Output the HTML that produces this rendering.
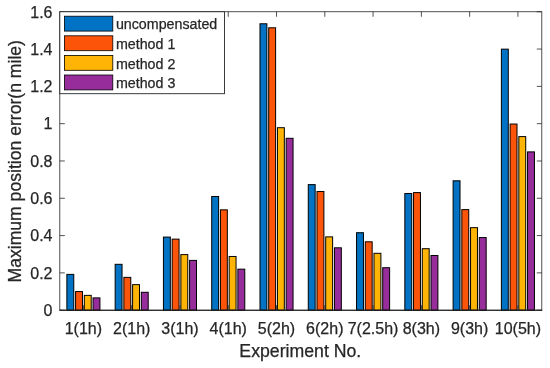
<!DOCTYPE html><html><head><meta charset="utf-8"><title>chart</title><style>html,body{margin:0;padding:0;background:#fff}svg{display:block}text{font-family:"Liberation Sans",Arial,Helvetica,sans-serif;fill:#262626;stroke:#262626;stroke-width:0.25px}</style></head><body>
<svg width="550" height="368" viewBox="0 0 550 368">
<rect width="550" height="368" fill="#fff"/>
<rect x="66.87" y="274.39" width="6.90" height="35.81" fill="#0272C4" stroke="#000" stroke-width="1"/>
<rect x="75.59" y="291.55" width="6.90" height="18.65" fill="#FC5408" stroke="#000" stroke-width="1"/>
<rect x="84.31" y="295.37" width="6.90" height="14.83" fill="#FFB406" stroke="#000" stroke-width="1"/>
<rect x="93.03" y="297.89" width="6.90" height="12.31" fill="#972D9B" stroke="#000" stroke-width="1"/>
<rect x="115.15" y="264.31" width="6.90" height="45.89" fill="#0272C4" stroke="#000" stroke-width="1"/>
<rect x="123.87" y="277.37" width="6.90" height="32.83" fill="#FC5408" stroke="#000" stroke-width="1"/>
<rect x="132.59" y="284.65" width="6.90" height="25.55" fill="#FFB406" stroke="#000" stroke-width="1"/>
<rect x="141.31" y="292.29" width="6.90" height="17.91" fill="#972D9B" stroke="#000" stroke-width="1"/>
<rect x="163.43" y="237.08" width="6.90" height="73.12" fill="#0272C4" stroke="#000" stroke-width="1"/>
<rect x="172.15" y="239.13" width="6.90" height="71.07" fill="#FC5408" stroke="#000" stroke-width="1"/>
<rect x="180.87" y="254.61" width="6.90" height="55.59" fill="#FFB406" stroke="#000" stroke-width="1"/>
<rect x="189.59" y="260.40" width="6.90" height="49.80" fill="#972D9B" stroke="#000" stroke-width="1"/>
<rect x="211.71" y="196.49" width="6.90" height="113.71" fill="#0272C4" stroke="#000" stroke-width="1"/>
<rect x="220.43" y="209.85" width="6.90" height="100.35" fill="#FC5408" stroke="#000" stroke-width="1"/>
<rect x="229.15" y="256.48" width="6.90" height="53.72" fill="#FFB406" stroke="#000" stroke-width="1"/>
<rect x="237.87" y="269.16" width="6.90" height="41.04" fill="#972D9B" stroke="#000" stroke-width="1"/>
<rect x="259.99" y="23.78" width="6.90" height="286.42" fill="#0272C4" stroke="#000" stroke-width="1"/>
<rect x="268.71" y="27.79" width="6.90" height="282.41" fill="#FC5408" stroke="#000" stroke-width="1"/>
<rect x="277.43" y="127.70" width="6.90" height="182.50" fill="#FFB406" stroke="#000" stroke-width="1"/>
<rect x="286.15" y="138.29" width="6.90" height="171.91" fill="#972D9B" stroke="#000" stroke-width="1"/>
<rect x="308.27" y="184.61" width="6.90" height="125.59" fill="#0272C4" stroke="#000" stroke-width="1"/>
<rect x="316.99" y="191.49" width="6.90" height="118.71" fill="#FC5408" stroke="#000" stroke-width="1"/>
<rect x="325.71" y="236.89" width="6.90" height="73.31" fill="#FFB406" stroke="#000" stroke-width="1"/>
<rect x="334.43" y="247.81" width="6.90" height="62.39" fill="#972D9B" stroke="#000" stroke-width="1"/>
<rect x="356.55" y="232.70" width="6.90" height="77.50" fill="#0272C4" stroke="#000" stroke-width="1"/>
<rect x="365.27" y="241.80" width="6.90" height="68.40" fill="#FC5408" stroke="#000" stroke-width="1"/>
<rect x="373.99" y="253.31" width="6.90" height="56.89" fill="#FFB406" stroke="#000" stroke-width="1"/>
<rect x="382.71" y="267.71" width="6.90" height="42.49" fill="#972D9B" stroke="#000" stroke-width="1"/>
<rect x="404.83" y="193.51" width="6.90" height="116.69" fill="#0272C4" stroke="#000" stroke-width="1"/>
<rect x="413.55" y="192.59" width="6.90" height="117.61" fill="#FC5408" stroke="#000" stroke-width="1"/>
<rect x="422.27" y="248.70" width="6.90" height="61.50" fill="#FFB406" stroke="#000" stroke-width="1"/>
<rect x="430.99" y="255.49" width="6.90" height="54.71" fill="#972D9B" stroke="#000" stroke-width="1"/>
<rect x="453.11" y="180.80" width="6.90" height="129.40" fill="#0272C4" stroke="#000" stroke-width="1"/>
<rect x="461.83" y="209.60" width="6.90" height="100.60" fill="#FC5408" stroke="#000" stroke-width="1"/>
<rect x="470.55" y="227.66" width="6.90" height="82.54" fill="#FFB406" stroke="#000" stroke-width="1"/>
<rect x="479.27" y="237.55" width="6.90" height="72.65" fill="#972D9B" stroke="#000" stroke-width="1"/>
<rect x="501.39" y="49.15" width="6.90" height="261.05" fill="#0272C4" stroke="#000" stroke-width="1"/>
<rect x="510.11" y="124.04" width="6.90" height="186.16" fill="#FC5408" stroke="#000" stroke-width="1"/>
<rect x="518.83" y="136.60" width="6.90" height="173.60" fill="#FFB406" stroke="#000" stroke-width="1"/>
<rect x="527.55" y="151.89" width="6.90" height="158.31" fill="#972D9B" stroke="#000" stroke-width="1"/>
<rect x="59.8" y="11.75" width="481.99999999999994" height="298.45" fill="none" stroke="#262626" stroke-width="0.8"/>
<path d="M59.4 310.3H542.1999999999999" stroke="#1a1a1a" stroke-width="1.1" fill="none"/>
<path d="M83.40 310.2V305.2 M83.40 11.75V16.75" stroke="#262626" stroke-width="0.8" fill="none"/>
<text x="83.40" y="334.2" font-size="16" text-anchor="middle">1(1h)</text>
<path d="M131.68 310.2V305.2 M131.68 11.75V16.75" stroke="#262626" stroke-width="0.8" fill="none"/>
<text x="131.68" y="334.2" font-size="16" text-anchor="middle">2(1h)</text>
<path d="M179.96 310.2V305.2 M179.96 11.75V16.75" stroke="#262626" stroke-width="0.8" fill="none"/>
<text x="179.96" y="334.2" font-size="16" text-anchor="middle">3(1h)</text>
<path d="M228.24 310.2V305.2 M228.24 11.75V16.75" stroke="#262626" stroke-width="0.8" fill="none"/>
<text x="228.24" y="334.2" font-size="16" text-anchor="middle">4(1h)</text>
<path d="M276.52 310.2V305.2 M276.52 11.75V16.75" stroke="#262626" stroke-width="0.8" fill="none"/>
<text x="276.52" y="334.2" font-size="16" text-anchor="middle">5(2h)</text>
<path d="M324.80 310.2V305.2 M324.80 11.75V16.75" stroke="#262626" stroke-width="0.8" fill="none"/>
<text x="324.80" y="334.2" font-size="16" text-anchor="middle">6(2h)</text>
<path d="M373.08 310.2V305.2 M373.08 11.75V16.75" stroke="#262626" stroke-width="0.8" fill="none"/>
<text x="373.08" y="334.2" font-size="16" text-anchor="middle">7(2.5h)</text>
<path d="M421.36 310.2V305.2 M421.36 11.75V16.75" stroke="#262626" stroke-width="0.8" fill="none"/>
<text x="421.36" y="334.2" font-size="16" text-anchor="middle">8(3h)</text>
<path d="M469.64 310.2V305.2 M469.64 11.75V16.75" stroke="#262626" stroke-width="0.8" fill="none"/>
<text x="469.64" y="334.2" font-size="16" text-anchor="middle">9(3h)</text>
<path d="M517.92 310.2V305.2 M517.92 11.75V16.75" stroke="#262626" stroke-width="0.8" fill="none"/>
<text x="517.92" y="334.2" font-size="16" text-anchor="middle">10(5h)</text>
<path d="M59.8 310.20H64.8 M541.8 310.20H536.8" stroke="#262626" stroke-width="0.8" fill="none"/>
<text x="52.5" y="315.95" font-size="16" text-anchor="end">0</text>
<path d="M59.8 272.89H64.8 M541.8 272.89H536.8" stroke="#262626" stroke-width="0.8" fill="none"/>
<text x="52.5" y="278.64" font-size="16" text-anchor="end">0.2</text>
<path d="M59.8 235.59H64.8 M541.8 235.59H536.8" stroke="#262626" stroke-width="0.8" fill="none"/>
<text x="52.5" y="241.34" font-size="16" text-anchor="end">0.4</text>
<path d="M59.8 198.28H64.8 M541.8 198.28H536.8" stroke="#262626" stroke-width="0.8" fill="none"/>
<text x="52.5" y="204.03" font-size="16" text-anchor="end">0.6</text>
<path d="M59.8 160.97H64.8 M541.8 160.97H536.8" stroke="#262626" stroke-width="0.8" fill="none"/>
<text x="52.5" y="166.72" font-size="16" text-anchor="end">0.8</text>
<path d="M59.8 123.67H64.8 M541.8 123.67H536.8" stroke="#262626" stroke-width="0.8" fill="none"/>
<text x="52.5" y="129.42" font-size="16" text-anchor="end">1</text>
<path d="M59.8 86.36H64.8 M541.8 86.36H536.8" stroke="#262626" stroke-width="0.8" fill="none"/>
<text x="52.5" y="92.11" font-size="16" text-anchor="end">1.2</text>
<path d="M59.8 49.06H64.8 M541.8 49.06H536.8" stroke="#262626" stroke-width="0.8" fill="none"/>
<text x="52.5" y="54.81" font-size="16" text-anchor="end">1.4</text>
<path d="M59.8 11.75H64.8 M541.8 11.75H536.8" stroke="#262626" stroke-width="0.8" fill="none"/>
<text x="52.5" y="17.50" font-size="16" text-anchor="end">1.6</text>
<text x="300.30" y="356.5" font-size="17.7" text-anchor="middle">Experiment No.</text>
<text transform="translate(20.5 161.28) rotate(-90)" font-size="17.6" text-anchor="middle">Maximum position error(n mile)</text>
<rect x="59.8" y="11.75" width="164.7" height="81.95" fill="#fff" stroke="#262626" stroke-width="0.9"/>
<rect x="64.4" y="16.20" width="48.4" height="14.9" fill="#0272C4" stroke="#000" stroke-width="0.8"/>
<text x="115.9" y="29.40" font-size="14.25" fill="#000" stroke="#000">uncompensated</text>
<rect x="64.4" y="35.80" width="48.4" height="14.9" fill="#FC5408" stroke="#000" stroke-width="0.8"/>
<text x="115.9" y="49.00" font-size="14.25" fill="#000" stroke="#000">method 1</text>
<rect x="64.4" y="55.40" width="48.4" height="14.9" fill="#FFB406" stroke="#000" stroke-width="0.8"/>
<text x="115.9" y="68.60" font-size="14.25" fill="#000" stroke="#000">method 2</text>
<rect x="64.4" y="75.00" width="48.4" height="14.9" fill="#972D9B" stroke="#000" stroke-width="0.8"/>
<text x="115.9" y="88.20" font-size="14.25" fill="#000" stroke="#000">method 3</text>
</svg></body></html>
